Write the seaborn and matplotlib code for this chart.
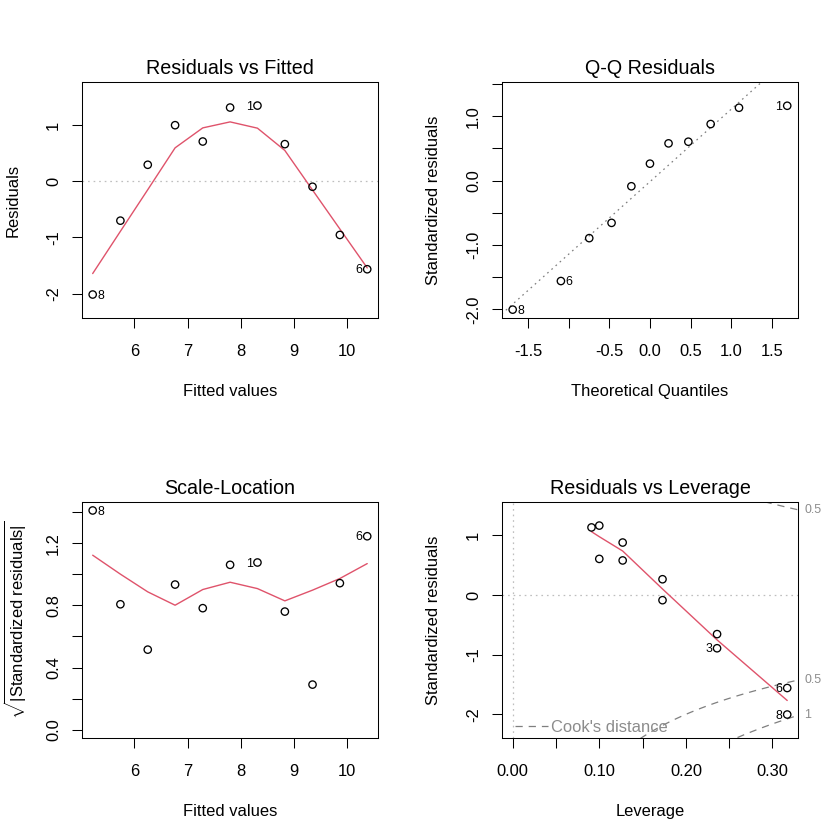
import numpy as np
import matplotlib
matplotlib.use("Agg")
import matplotlib.pyplot as plt
from matplotlib.lines import Line2D
import seaborn as sns

# ---------------- data ----------------
obs_labels = ["8", "", "", "", "", "", "1", "", "", "3", "6"]   # observation ids, in fitted order
fitted = [5.216, 5.737, 6.251, 6.765, 7.285, 7.799, 8.313, 8.828, 9.348, 9.862, 10.376]
residuals = [-2.018, -0.700, 0.297, 1.003, 0.712, 1.318, 1.353, 0.665, -0.095, -0.955, -1.567]
resid_smooth = [-1.644, -0.890, -0.148, 0.599, 0.955, 1.062, 0.950, 0.552, -0.154, -0.849, -1.543]
std_resid = [-2.003, -0.656, 0.263, 0.878, 0.604, 1.131, 1.162, 0.578, -0.088, -0.893, -1.559]
theo_quantiles = [-1.691, -1.097, -0.748, -0.473, -0.229, 0.0, 0.229, 0.473, 0.748, 1.097, 1.691]
qq_line_intercept = -0.017
qq_line_slope = 1.124
sqrt_abs_std = [1.411, 0.807, 0.515, 0.934, 0.782, 1.061, 1.076, 0.760, 0.290, 0.943, 1.245]
scale_smooth = [1.123, 1.001, 0.887, 0.801, 0.902, 0.949, 0.908, 0.829, 0.898, 0.973, 1.069]
leverage = [0.317, 0.236, 0.173, 0.127, 0.100, 0.091, 0.100, 0.127, 0.173, 0.236, 0.317]
lev_smooth_x = [0.091, 0.100, 0.127, 0.173, 0.236, 0.317]
lev_smooth_y = [1.060, 0.976, 0.736, 0.100, -0.753, -1.768]
cook_levels = [0.5, 1.0]
n_coef = 2
ids_resid = ["8", "1", "6"]   # labelled in panels 1-3
ids_cook = ["8", "6", "3"]    # labelled in panel 4

titles = ["Residuals vs Fitted", "Q-Q Residuals", "Scale-Location", "Residuals vs Leverage"]
xlabels = ["Fitted values", "Theoretical Quantiles", "Fitted values", "Leverage"]
ylabels = ["Residuals", "Standardized residuals",
           r"$\sqrt{|\mathrm{Standardized\ residuals}|}$", "Standardized residuals"]

# ---------------- style ----------------
sns.set_theme(style="ticks")
plt.rcParams["font.family"] = ["Liberation Sans", "DejaVu Sans"]
plt.rcParams["mathtext.fontset"] = "custom"
plt.rcParams["mathtext.rm"] = "Liberation Sans"
plt.rcParams["mathtext.it"] = "Liberation Sans:italic"
plt.rcParams["mathtext.bf"] = "Liberation Sans:bold"
plt.rcParams["lines.scale_dashes"] = False
plt.rcParams["axes.edgecolor"] = "black"
plt.rcParams["axes.linewidth"] = 0.75
plt.rcParams["text.color"] = "black"
plt.rcParams["axes.labelcolor"] = "black"
plt.rcParams["xtick.color"] = "black"
plt.rcParams["ytick.color"] = "black"

RED = "#DF536B"
GRAY = "#BEBEBE"
GRAY50 = "#7F7F7F"
DOT = (0, (1.2, 2.8))
DASH = (0, (5.2, 4.3))
FS_LAB = 11.85
FS_TITLE = 14.2
FS_ID = 8.9

fig = plt.figure(figsize=(8.4, 8.4), dpi=100)
W, H = 296.5 / 840, 236.7 / 840
lefts = [81.7 / 840, 501.7 / 840]
bottoms = [(840 - 318.4) / 840, (840 - 738.4) / 840]
axes = [fig.add_axes([lefts[0], bottoms[0], W, H]),
        fig.add_axes([lefts[1], bottoms[0], W, H]),
        fig.add_axes([lefts[0], bottoms[1], W, H]),
        fig.add_axes([lefts[1], bottoms[1], W, H])]


def rlim(lo, hi, f=0.04):
    d = (hi - lo) * f
    return lo - d, hi + d


def points(ax, x, y):
    sns.scatterplot(x=x, y=y, ax=ax, s=28, marker="o", facecolor="none",
                    edgecolor="black", linewidth=0.95, zorder=3)


def label_points(ax, xs, ys, labs, show):
    xmid = np.mean(ax.get_xlim())
    for x, y, t in zip(xs, ys, labs):
        if not t or t not in show:
            continue
        right = x > xmid
        ax.annotate(t, (x, y), xytext=(-3.4 if right else 3.4, -0.8),
                    textcoords="offset points", ha="right" if right else "left",
                    va="center", fontsize=FS_ID, annotation_clip=False)


def finish(ax, i, xticks, xtl, yticks, ytl, ylab_x=-60.6):
    ax.set_title(titles[i], fontsize=FS_TITLE, pad=5.5)
    ax.set_xlabel(xlabels[i], fontsize=FS_LAB)
    ax.set_ylabel(ylabels[i], fontsize=FS_LAB)
    ax.xaxis.set_label_coords(0.5, -65.5 / 236.7)
    ax.yaxis.set_label_coords(ylab_x / 296.5, 0.5)
    ax.set_xticks(xticks)
    ax.set_xticklabels(xtl)
    ax.set_yticks(yticks)
    ax.set_yticklabels(ytl, rotation=90, va="center")
    ax.tick_params(axis="both", direction="out", length=7.2, width=0.75,
                   labelsize=FS_LAB)
    ax.tick_params(axis="x", pad=11.0)
    ax.tick_params(axis="y", pad=7.6)
    for s in ax.spines.values():
        s.set_visible(True)
        s.set_color("black")
        s.set_linewidth(0.75)


# ---------------- Panel 1: Residuals vs Fitted ----------------
ax = axes[0]
xl = rlim(min(fitted), max(fitted))
yl = rlim(*rlim(min(residuals), max(residuals), 0.08))
ax.axhline(0, color=GRAY, lw=0.9, ls=DOT, zorder=1)
sns.lineplot(x=fitted, y=resid_smooth, ax=ax, color=RED, lw=1.0, sort=False,
             estimator=None, zorder=2)
points(ax, fitted, residuals)
ax.set_xlim(xl)
ax.set_ylim(yl)
label_points(ax, fitted, residuals, obs_labels, ids_resid)
finish(ax, 0, [6, 7, 8, 9, 10], ["6", "7", "8", "9", "10"],
       [-2, -1, 0, 1], ["-2", "-1", "0", "1"])

# ---------------- Panel 2: Q-Q ----------------
ax = axes[1]
order = np.argsort(std_resid)
qq_y = np.asarray(std_resid)[order]
qq_lab = [obs_labels[k] for k in order]
xl = rlim(min(theo_quantiles), max(theo_quantiles))
ylo, yhi = min(qq_y), max(qq_y)
yhi = yhi + (yhi - ylo) * 0.075
yl = rlim(ylo, yhi)
ax.axline((0, qq_line_intercept), slope=qq_line_slope, color=GRAY50, lw=0.9,
          ls=DOT, zorder=1)
points(ax, theo_quantiles, qq_y)
ax.set_xlim(xl)
ax.set_ylim(yl)
label_points(ax, theo_quantiles, qq_y, qq_lab, ids_resid)
finish(ax, 1, [-1.5, -1.0, -0.5, 0.0, 0.5, 1.0, 1.5],
       ["-1.5", "", "-0.5", "0.0", "0.5", "1.0", "1.5"],
       [-2.0, -1.5, -1.0, -0.5, 0.0, 0.5, 1.0, 1.5],
       ["-2.0", "", "-1.0", "", "0.0", "", "1.0", ""])

# ---------------- Panel 3: Scale-Location ----------------
ax = axes[2]
xl = rlim(min(fitted), max(fitted))
yl = rlim(0, max(sqrt_abs_std))
sns.lineplot(x=fitted, y=scale_smooth, ax=ax, color=RED, lw=1.0, sort=False,
             estimator=None, zorder=2)
points(ax, fitted, sqrt_abs_std)
ax.set_xlim(xl)
ax.set_ylim(yl)
label_points(ax, fitted, sqrt_abs_std, obs_labels, ids_resid)
finish(ax, 2, [6, 7, 8, 9, 10], ["6", "7", "8", "9", "10"],
       [0.0, 0.2, 0.4, 0.6, 0.8, 1.0, 1.2, 1.4],
       ["0.0", "", "0.4", "", "0.8", "", "1.2", ""], ylab_x=-53.0)

# ---------------- Panel 4: Residuals vs Leverage ----------------
ax = axes[3]
xl = rlim(0, max(leverage))
yl = rlim(*rlim(min(std_resid), max(std_resid), 0.08))
ax.axhline(0, color=GRAY, lw=0.9, ls=DOT, zorder=1)
ax.axvline(0, color=GRAY, lw=0.9, ls=DOT, zorder=1)
hh = np.linspace(min(min(leverage), max(leverage) / 100), xl[1], 101)
for crit in cook_levels:
    cl = np.sqrt(crit * n_coef * (1 - hh) / hh)
    ax.plot(hh, cl, color=GRAY50, lw=0.9, ls=DASH, zorder=1)
    ax.plot(hh, -cl, color=GRAY50, lw=0.9, ls=DASH, zorder=1)
sns.lineplot(x=lev_smooth_x, y=lev_smooth_y, ax=ax, color=RED, lw=1.0,
             sort=False, estimator=None, zorder=2)
points(ax, leverage, std_resid)
ax.set_xlim(xl)
ax.set_ylim(yl)
label_points(ax, leverage, std_resid, obs_labels, ids_cook)
# Cook's distance levels on the right
xmax = min(0.99, xl[1])
ymult = np.sqrt(n_coef * (1 - xmax) / xmax)
aty = [np.sqrt(c) * ymult for c in cook_levels]
for lvl, a in zip(cook_levels, aty):
    for yv in (a, -a):
        if yl[0] <= yv <= yl[1]:
            ax.annotate(f"{lvl:g}", (1.0, yv), xycoords=("axes fraction", "data"),
                        xytext=(4.3, 0), textcoords="offset points", ha="left",
                        va="center", fontsize=FS_ID, color="#8C8C8C",
                        annotation_clip=False)
handle = Line2D([], [], color=GRAY50, lw=0.9, ls=DASH)
leg = ax.legend([handle], ["Cook's distance"], loc="center left",
                bbox_to_anchor=(0.045, 0.047), frameon=False, handlelength=2.0,
                handletextpad=0.2, borderpad=0, borderaxespad=0,
                fontsize=FS_LAB, labelcolor="#8C8C8C")
finish(ax, 3, [0.0, 0.05, 0.10, 0.15, 0.20, 0.25, 0.30],
       ["0.00", "", "0.10", "", "0.20", "", "0.30"],
       [-2, -1, 0, 1], ["-2", "-1", "0", "1"])

fig.savefig("out.png", dpi=100, facecolor="white")
